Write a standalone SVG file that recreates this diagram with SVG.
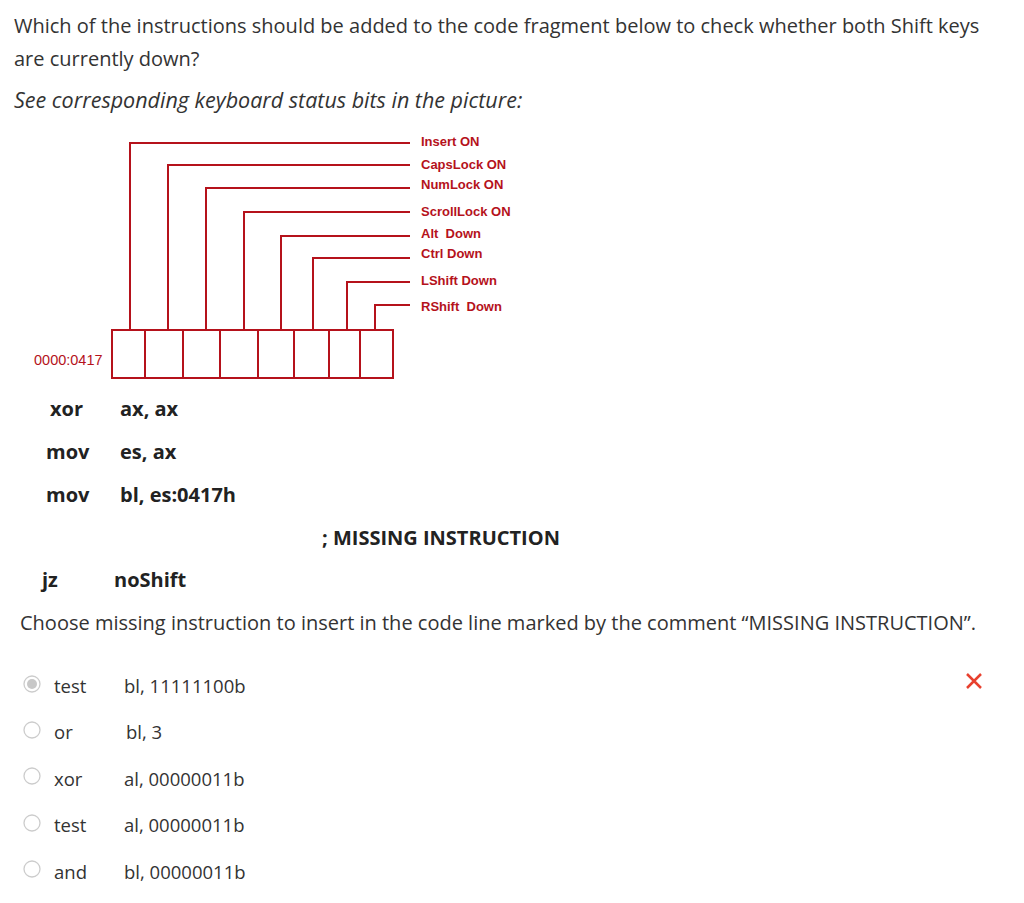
<svg xmlns="http://www.w3.org/2000/svg" width="1024" height="903" viewBox="0 0 1024 903">
<style>
.t{font-family:"Open Sans",sans-serif;font-size:20px;fill:#333}
.c{font-family:"Open Sans",sans-serif;font-size:20px;font-weight:bold;fill:#222}
.l{font-family:"Liberation Sans",Arial,sans-serif;font-size:13px;font-weight:bold;fill:#b5121b;white-space:pre}
.w{fill:none;stroke:#b5121b;stroke-width:2}
.r{fill:#fff;stroke:#ccc;stroke-width:1.3}
.o{font-family:"Open Sans",sans-serif;font-size:18.5px;fill:#333}
</style>
<rect width="1024" height="903" fill="#fff"/>
<text class="t" x="14" y="33">Which of the instructions should be added to the code fragment below to check whether both Shift keys</text>
<text class="t" x="14" y="66">are currently down?</text>
<text class="t" x="14" y="108" font-style="italic" style="font-size:21.5px">See corresponding keyboard status bits in the picture:</text>
<g id="connectors" class="w">
<polyline points="130,330 130,143 410,143"/>
<polyline points="168,330 168,165 410,165"/>
<polyline points="206,330 206,188 410,188"/>
<polyline points="244,330 244,212 410,212"/>
<polyline points="281,330 281,236 410,236"/>
<polyline points="313,330 313,258 410,258"/>
<polyline points="347,330 347,282 410,282"/>
<polyline points="375,330 375,305 410,305"/>
</g>
<g id="register" class="w">
<rect x="112" y="330" width="281" height="48"/>
<path d="M145 330V378M183 330V378M220 330V378M258 330V378M294 330V378M329 330V378M360 330V378"/>
<text x="34" y="365" font-family="Liberation Sans,Arial,sans-serif" font-size="14.5" fill="#b5121b" stroke="none">0000:0417</text>
</g>
<g id="labels">
<text class="l" x="421" y="146">Insert ON</text>
<text class="l" x="421" y="169">CapsLock ON</text>
<text class="l" x="421" y="189">NumLock ON</text>
<text class="l" x="421" y="216">ScrollLock ON</text>
<text class="l" x="421" y="238" xml:space="preserve">Alt  Down</text>
<text class="l" x="421" y="258">Ctrl Down</text>
<text class="l" x="421" y="285">LShift Down</text>
<text class="l" x="421" y="311" xml:space="preserve">RShift  Down</text>
</g>
<g id="code">
<text class="c" x="50" y="416">xor</text><text class="c" x="120" y="416">ax, ax</text>
<text class="c" x="46" y="459">mov</text><text class="c" x="120" y="459">es, ax</text>
<text class="c" x="46" y="502">mov</text><text class="c" x="120" y="502">bl, es:0417h</text>
<text class="c" x="322" y="545">; MISSING INSTRUCTION</text>
<text class="c" x="42" y="587">jz</text><text class="c" x="114" y="587">noShift</text>
</g>
<text class="t" x="20" y="630">Choose missing instruction to insert in the code line marked by the comment “MISSING INSTRUCTION”.</text>
<g id="options">
<circle class="r" cx="32" cy="684" r="8"/><circle cx="32" cy="684" r="5" fill="#c8c8c8"/>
<text class="o" x="54" y="693">test</text><text class="o" x="124" y="693">bl, 11111100b</text>
<circle class="r" cx="32" cy="730" r="8"/>
<text class="o" x="54" y="739">or</text><text class="o" x="126" y="739">bl, 3</text>
<circle class="r" cx="32" cy="776" r="8"/>
<text class="o" x="54" y="786">xor</text><text class="o" x="124" y="786">al, 00000011b</text>
<circle class="r" cx="32" cy="823" r="8"/>
<text class="o" x="54" y="832">test</text><text class="o" x="124" y="832">al, 00000011b</text>
<circle class="r" cx="32" cy="869" r="8"/>
<text class="o" x="54" y="879">and</text><text class="o" x="124" y="879">bl, 00000011b</text>
<path d="M967 674L981 688M981 674L967 688" stroke="#e8412f" stroke-width="2.5"/>
</g>
</svg>
